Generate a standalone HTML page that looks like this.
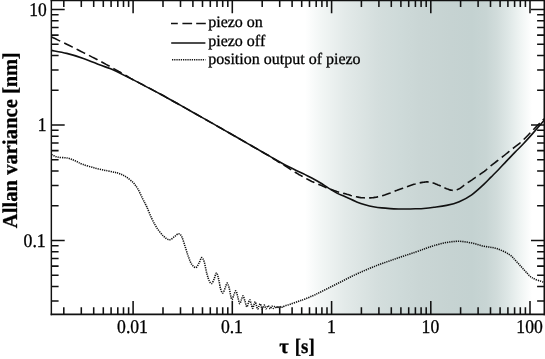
<!DOCTYPE html>
<html><head><meta charset="utf-8"><title>Allan variance</title>
<style>
html,body{margin:0;padding:0;background:#fff}
svg{display:block}
text{font-family:"Liberation Serif","Times New Roman",serif;text-rendering:geometricPrecision;fill:#000;stroke:#000;stroke-width:0.3px}
</style></head><body>
<svg width="545" height="359" viewBox="0 0 545 359">
<defs>
<linearGradient id="g" gradientUnits="userSpaceOnUse" x1="300" x2="545" y1="0" y2="0">
<stop offset="0.0204" stop-color="#ffffff"/>
<stop offset="0.0857" stop-color="#f2f6f5"/>
<stop offset="0.1837" stop-color="#e3eae9"/>
<stop offset="0.3184" stop-color="#d4dedd"/>
<stop offset="0.4082" stop-color="#cedad9"/>
<stop offset="0.4898" stop-color="#cad6d5"/>
<stop offset="0.6122" stop-color="#c6d3d2"/>
<stop offset="0.7020" stop-color="#c4d2d1"/>
<stop offset="0.7592" stop-color="#c8d5d4"/>
<stop offset="0.8041" stop-color="#d1dcdb"/>
<stop offset="0.8490" stop-color="#dee7e6"/>
<stop offset="0.8980" stop-color="#eff4f3"/>
<stop offset="0.9469" stop-color="#ffffff"/>
</linearGradient>
</defs>
<rect x="0" y="0" width="545" height="359" fill="#fff"/>
<rect x="300" y="0" width="245" height="314.4" fill="url(#g)"/>
<path d="M51.6 154.5C52.6 154.9 54.8 156.5 57.5 157.1C60.2 157.7 64.7 157.5 67.6 158.1C70.5 158.7 72.6 159.8 75.1 160.8C77.6 161.8 79.2 163.1 82.6 164.3C85.9 165.5 91.0 167.0 95.2 168.1C99.4 169.2 103.9 170.1 107.7 170.9C111.5 171.7 114.9 172.2 117.8 173.1C120.7 174.0 122.8 174.9 125.3 176.4C127.8 177.9 130.7 180.1 132.8 182.2C134.9 184.3 136.1 186.1 137.8 188.9C139.5 191.7 141.3 196.0 142.8 199.0C144.3 202.0 145.2 203.5 146.7 206.7C148.2 209.9 150.0 214.9 151.7 218.4C153.4 221.9 154.8 224.7 156.7 227.6C158.6 230.5 161.3 234.0 163.4 236.0C165.5 238.0 167.5 239.7 169.3 239.8C171.1 239.9 172.8 237.8 174.3 236.8C175.8 235.8 177.2 233.8 178.5 233.8C179.8 233.8 180.7 234.6 181.8 236.8C182.9 239.0 184.1 243.5 185.2 246.8C186.3 250.1 187.3 253.8 188.4 256.7C189.5 259.6 190.4 262.5 191.7 264.3C192.9 266.1 194.7 267.9 195.9 267.6C197.2 267.3 198.2 264.3 199.2 262.6C200.2 260.9 200.9 257.7 201.7 257.6C202.5 257.5 203.3 259.2 204.2 261.8C205.0 264.4 206.0 270.3 206.8 273.5C207.7 276.7 208.5 279.3 209.3 281.0C210.1 282.7 211.0 283.9 211.8 283.5C212.6 283.1 213.5 280.2 214.3 278.5C215.1 276.8 215.8 272.8 216.6 273.0C217.3 273.2 218.2 277.4 218.8 280.0C219.5 282.6 219.8 286.3 220.5 288.5C221.2 290.7 222.0 293.2 222.8 293.0C223.6 292.8 224.8 288.6 225.5 287.0C226.2 285.4 226.6 282.9 227.2 283.1C227.8 283.3 228.4 285.3 229.2 288.0C229.9 290.7 230.9 298.1 231.7 299.3C232.5 300.5 233.1 296.4 233.8 295.0C234.5 293.6 235.2 290.6 235.9 290.9C236.6 291.2 237.2 294.9 237.8 297.0C238.4 299.1 239.1 303.2 239.7 303.6C240.3 304.1 240.8 301.0 241.4 299.7C242.0 298.4 242.5 295.6 243.1 295.9C243.7 296.2 244.4 299.5 245.0 301.3C245.6 303.1 246.2 306.5 246.8 306.8C247.4 307.1 247.8 304.5 248.3 303.3C248.8 302.1 249.3 299.7 249.8 299.8C250.3 299.9 250.7 302.6 251.2 304.0C251.7 305.4 252.1 308.2 252.6 308.4C253.1 308.6 253.5 306.1 253.9 305.0C254.3 303.9 254.7 301.8 255.1 301.8C255.5 301.9 256.0 304.1 256.4 305.3C256.8 306.5 257.2 308.8 257.6 309.0C258.0 309.2 258.5 307.2 258.9 306.3C259.3 305.4 259.8 303.8 260.2 303.8C260.6 303.8 260.9 305.4 261.2 306.3C261.5 307.2 261.7 309.2 262.2 309.0C262.7 308.8 263.7 305.1 264.3 305.1C264.9 305.1 265.4 308.7 266.0 308.8C266.6 308.9 267.5 305.6 268.2 305.6C268.9 305.6 269.6 308.6 270.2 308.7C270.8 308.8 271.3 306.1 271.9 306.0C272.4 305.9 273.0 308.4 273.5 308.4C274.0 308.4 274.5 306.2 275.0 306.2C275.5 306.1 276.1 308.1 276.6 308.1C277.1 308.1 277.5 306.4 278.0 306.3C278.5 306.2 279.0 307.8 279.5 307.8C280.0 307.8 280.5 306.4 281.0 306.3C281.5 306.2 281.8 307.3 282.5 307.2C283.2 307.1 283.7 306.3 285.0 305.8C286.3 305.3 288.0 305.0 290.3 304.2C292.6 303.4 296.2 302.1 298.6 301.2C301.1 300.3 302.2 300.1 305.0 299.0C307.8 297.9 311.3 296.4 315.1 294.7C318.9 292.9 323.4 290.6 327.6 288.5C331.8 286.4 336.0 284.3 340.2 282.2C344.4 280.1 348.5 277.9 352.7 275.9C356.9 273.9 361.1 272.0 365.3 270.2C369.5 268.4 373.6 266.7 377.8 265.1C382.0 263.5 386.2 262.1 390.4 260.6C394.6 259.1 398.7 257.7 402.9 256.3C407.1 254.9 411.6 253.4 415.5 252.1C419.4 250.8 422.9 249.4 426.0 248.3C429.1 247.2 430.7 246.6 434.1 245.6C437.5 244.6 442.4 243.2 446.6 242.5C450.8 241.8 455.0 241.2 459.2 241.3C463.4 241.4 467.5 242.2 471.7 243.0C475.9 243.8 480.1 245.4 484.3 246.3C488.5 247.2 492.6 247.2 496.8 248.6C501.0 250.0 506.0 252.4 509.4 254.6C512.8 256.8 514.4 259.4 516.9 262.0C519.4 264.6 521.9 267.6 524.4 270.2C526.9 272.8 528.9 275.7 532.0 277.7C535.1 279.7 541.4 281.3 543.3 282.0" fill="none" stroke="#111" stroke-width="1.55" stroke-dasharray="1.25 0.95"/>
<path d="M51.6 37.0L53.2 37.8L55.5 38.8L58.1 40.1L60.2 41.1M64.2 43.0L66.7 44.2L69.4 45.5L72.1 46.9L72.7 47.2M76.6 49.1L77.8 49.7L80.6 51.2L83.4 52.6L85.1 53.5M89.0 55.4L89.0 55.4L91.8 56.9L94.6 58.3L97.4 59.7L97.5 59.8M101.3 61.8L103.1 62.7L106.1 64.4L109.1 66.0L109.6 66.3M113.4 68.4L114.6 69.1L116.9 70.4L118.8 71.5L120.3 72.3L121.6 73.1M125.3 75.2L126.7 76.0L128.0 76.8L129.4 77.6L130.7 78.4L132.1 79.2L133.5 80.0M137.2 81.9L138.0 82.3L139.6 83.1L141.3 84.0L143.4 85.1L145.1 86.0M148.7 87.9L151.4 89.3L154.3 90.9L156.5 92.0M160.1 93.9L160.2 94.0L163.0 95.5L165.8 97.1L167.9 98.2M171.4 100.2L174.1 101.7L176.9 103.3L179.2 104.6M182.7 106.5L185.1 107.9L187.8 109.4L190.4 110.9M194.0 112.9L196.8 114.5L200.1 116.4L201.7 117.3M205.2 119.3L206.9 120.2L210.2 122.1L213.0 123.6M216.5 125.7L219.2 127.2L222.0 128.8L224.2 130.1M227.7 132.1L230.2 133.5L233.0 135.1L235.4 136.5M238.9 138.5L241.3 139.9L244.1 141.5L246.6 142.9M250.2 145.0L252.8 146.5L255.9 148.3L257.9 149.4M261.4 151.4L261.4 151.4L263.6 152.7L265.1 153.6L266.1 154.2L266.8 154.6L267.5 155.0L268.5 155.6L269.0 156.0M272.4 158.1L275.1 159.7L278.2 161.7L280.0 162.8M283.6 164.9L284.3 165.4L286.7 166.9L288.6 168.1L290.1 169.1L291.3 169.8M294.8 172.0L295.1 172.2L296.5 173.0L297.9 173.9L299.2 174.7L300.6 175.4L302.0 176.2L302.6 176.6M306.3 178.6L307.6 179.3L309.0 180.0L310.4 180.7L311.8 181.4L313.2 182.0L314.4 182.6M318.3 184.2L318.8 184.4L320.2 185.0L321.6 185.6L323.0 186.2L324.4 186.8L325.7 187.4L326.6 187.8M330.5 189.3L331.3 189.6L332.7 190.1L334.1 190.6L335.5 191.0L336.9 191.5L338.3 191.9L339.1 192.2M343.1 193.2L343.7 193.4L345.3 193.8L347.0 194.3L348.9 194.8L350.8 195.4L351.9 195.7M355.9 196.7L356.4 196.8L358.0 197.1L359.5 197.4L360.9 197.6L362.2 197.7L363.6 197.8L364.9 197.9M369.1 197.9L369.2 197.9L370.6 197.9L372.0 197.7L373.4 197.6L374.8 197.4L376.2 197.2L377.6 196.9L378.1 196.8M382.1 195.8L383.2 195.5L384.6 195.1L386.0 194.6L387.4 194.1L388.8 193.6L390.2 193.1L390.7 192.9M394.6 191.3L395.7 190.8L397.1 190.3L398.5 189.7L399.9 189.2L401.3 188.7L402.7 188.2L403.1 188.0M407.0 186.7L408.3 186.2L409.7 185.7L411.1 185.2L412.5 184.7L413.9 184.3L415.3 183.9L415.6 183.8M419.7 182.9L421.1 182.6L422.4 182.4L423.6 182.2L424.6 182.1L425.5 182.0L426.3 181.9L427.0 181.9L427.8 181.9L428.6 182.0L428.7 182.0M432.6 182.9L433.1 183.0L434.0 183.3L434.8 183.6L435.6 183.9L436.4 184.2L437.2 184.5L438.0 184.9L439.0 185.3L440.1 185.8L440.8 186.1M444.4 187.8L445.4 188.2L446.6 188.7L447.7 189.1L448.8 189.5L449.8 189.9L450.8 190.1L451.9 190.3L452.8 190.4M456.7 189.8L457.0 189.7L458.1 189.3L459.2 188.8L460.4 188.1L461.7 187.2L463.0 186.2L464.2 185.2M467.7 182.6L468.3 182.3L468.9 181.9L469.6 181.5L470.5 180.9L471.7 180.1L473.4 178.9L475.6 177.4L475.8 177.3M479.5 174.7L480.3 174.2L482.5 172.6L484.3 171.3L485.6 170.3L486.6 169.5L487.2 168.9M490.6 166.0L491.4 165.3L493.0 164.1L494.7 162.8L496.4 161.5L498.2 160.2L498.3 160.1M501.8 157.4L503.6 156.0L505.4 154.5L507.2 153.0L509.1 151.5L509.4 151.2M512.9 148.5L514.3 147.4L515.9 146.2L517.6 144.9L519.6 143.3L520.5 142.5M523.7 139.5L524.5 138.7L527.7 135.5L530.3 132.8M533.3 129.8L534.3 128.7L537.3 125.6L539.7 123.2L539.8 123.1M542.8 120.2L542.9 120.0L544.0 119.0L544.8 118.2L545.4 117.5L546.0 117.0" fill="none" stroke="#111" stroke-width="1.6"/>
<path d="M51.6 50.4C54.1 50.9 61.4 52.1 66.7 53.4C72.0 54.7 77.8 56.5 83.4 58.4C89.0 60.3 95.8 63.4 100.2 65.1C104.6 66.8 105.6 66.7 110.0 68.6C114.4 70.5 121.1 73.8 126.7 76.6C132.3 79.3 137.8 82.2 143.4 85.1C149.0 88.0 154.6 91.0 160.2 94.0C165.8 97.0 171.3 100.2 176.9 103.3C182.5 106.4 187.5 109.3 193.6 112.7C199.7 116.1 207.3 120.4 213.4 123.9C219.5 127.4 224.6 130.3 230.2 133.5C235.8 136.7 241.3 139.9 246.9 143.1C252.5 146.3 259.8 150.5 263.6 152.7C267.5 154.9 266.1 154.2 270.0 156.4C273.9 158.6 281.1 162.8 286.7 165.7C292.3 168.6 299.2 171.8 303.4 173.8C307.6 175.9 309.0 176.5 311.8 178.0C314.6 179.5 317.4 181.1 320.2 182.8C323.0 184.5 325.7 186.4 328.5 188.1C331.3 189.8 334.1 191.6 336.9 193.1C339.7 194.6 342.0 195.3 345.3 196.8C348.6 198.3 353.4 200.6 356.7 201.9C360.0 203.2 362.2 203.9 365.0 204.7C367.8 205.5 370.6 206.2 373.4 206.7C376.2 207.2 379.0 207.6 381.8 207.9C384.6 208.2 387.4 208.4 390.2 208.6C393.0 208.8 395.7 208.9 398.5 209.0C401.3 209.1 404.1 209.0 406.9 209.0C409.7 209.0 412.5 208.9 415.3 208.8C418.1 208.7 420.5 208.8 423.6 208.5C426.7 208.2 430.2 207.8 434.0 207.3C437.8 206.8 442.4 206.3 446.6 205.4C450.8 204.5 455.0 203.5 459.2 201.7C463.4 199.9 467.5 197.8 471.7 194.8C475.9 191.8 481.1 186.9 484.3 183.9C487.5 180.9 488.6 179.5 491.0 177.1C493.4 174.7 495.8 172.4 498.4 169.7C501.0 167.0 503.9 163.8 506.7 160.9C509.5 158.0 512.3 154.9 515.1 152.1C517.9 149.2 520.5 146.9 523.4 143.8C526.3 140.7 529.4 137.3 532.8 133.4C536.2 129.5 541.8 123.0 544.0 120.5C546.2 118.0 545.7 118.6 546.0 118.2" fill="none" stroke="#111" stroke-width="1.6"/>
<path d="M63.8 314.4 L63.8 307.2M63.8 0.0 L63.8 7.1M81.3 314.4 L81.3 307.2M81.3 0.0 L81.3 7.1M93.7 314.4 L93.7 307.2M93.7 0.0 L93.7 7.1M103.3 314.4 L103.3 307.2M103.3 0.0 L103.3 7.1M111.1 314.4 L111.1 307.2M111.1 0.0 L111.1 7.1M117.8 314.4 L117.8 307.2M117.8 0.0 L117.8 7.1M123.5 314.4 L123.5 307.2M123.5 0.0 L123.5 7.1M128.6 314.4 L128.6 307.2M128.6 0.0 L128.6 7.1M133.1 314.4 L133.1 301.1M133.1 0.0 L133.1 13.2M163.0 314.4 L163.0 307.2M163.0 0.0 L163.0 7.1M180.5 314.4 L180.5 307.2M180.5 0.0 L180.5 7.1M192.9 314.4 L192.9 307.2M192.9 0.0 L192.9 7.1M202.5 314.4 L202.5 307.2M202.5 0.0 L202.5 7.1M210.3 314.4 L210.3 307.2M210.3 0.0 L210.3 7.1M217.0 314.4 L217.0 307.2M217.0 0.0 L217.0 7.1M222.7 314.4 L222.7 307.2M222.7 0.0 L222.7 7.1M227.8 314.4 L227.8 307.2M227.8 0.0 L227.8 7.1M232.3 314.4 L232.3 301.1M232.3 0.0 L232.3 13.2M262.2 314.4 L262.2 307.2M262.2 0.0 L262.2 7.1M279.7 314.4 L279.7 307.2M279.7 0.0 L279.7 7.1M292.1 314.4 L292.1 307.2M292.1 0.0 L292.1 7.1M301.7 314.4 L301.7 307.2M301.7 0.0 L301.7 7.1M309.5 314.4 L309.5 307.2M309.5 0.0 L309.5 7.1M316.2 314.4 L316.2 307.2M316.2 0.0 L316.2 7.1M321.9 314.4 L321.9 307.2M321.9 0.0 L321.9 7.1M327.0 314.4 L327.0 307.2M327.0 0.0 L327.0 7.1M331.6 314.4 L331.6 301.1M331.6 0.0 L331.6 13.2M361.4 314.4 L361.4 307.2M361.4 0.0 L361.4 7.1M378.9 314.4 L378.9 307.2M378.9 0.0 L378.9 7.1M391.3 314.4 L391.3 307.2M391.3 0.0 L391.3 7.1M400.9 314.4 L400.9 307.2M400.9 0.0 L400.9 7.1M408.7 314.4 L408.7 307.2M408.7 0.0 L408.7 7.1M415.4 314.4 L415.4 307.2M415.4 0.0 L415.4 7.1M421.1 314.4 L421.1 307.2M421.1 0.0 L421.1 7.1M426.2 314.4 L426.2 307.2M426.2 0.0 L426.2 7.1M430.8 314.4 L430.8 301.1M430.8 0.0 L430.8 13.2M460.6 314.4 L460.6 307.2M460.6 0.0 L460.6 7.1M478.1 314.4 L478.1 307.2M478.1 0.0 L478.1 7.1M490.5 314.4 L490.5 307.2M490.5 0.0 L490.5 7.1M500.1 314.4 L500.1 307.2M500.1 0.0 L500.1 7.1M507.9 314.4 L507.9 307.2M507.9 0.0 L507.9 7.1M514.6 314.4 L514.6 307.2M514.6 0.0 L514.6 7.1M520.3 314.4 L520.3 307.2M520.3 0.0 L520.3 7.1M525.4 314.4 L525.4 307.2M525.4 0.0 L525.4 7.1M530.0 314.4 L530.0 301.1M530.0 0.0 L530.0 13.2M51.4 300.9 L58.6 300.9M544.3 300.9 L537.1 300.9M51.4 286.5 L58.6 286.5M544.3 286.5 L537.1 286.5M51.4 275.3 L58.6 275.3M544.3 275.3 L537.1 275.3M51.4 266.1 L58.6 266.1M544.3 266.1 L537.1 266.1M51.4 258.4 L58.6 258.4M544.3 258.4 L537.1 258.4M51.4 251.7 L58.6 251.7M544.3 251.7 L537.1 251.7M51.4 245.8 L58.6 245.8M544.3 245.8 L537.1 245.8M51.4 240.5 L64.7 240.5M544.3 240.5 L531.0 240.5M51.4 205.7 L58.6 205.7M544.3 205.7 L537.1 205.7M51.4 185.4 L58.6 185.4M544.3 185.4 L537.1 185.4M51.4 171.0 L58.6 171.0M544.3 171.0 L537.1 171.0M51.4 159.8 L58.6 159.8M544.3 159.8 L537.1 159.8M51.4 150.6 L58.6 150.6M544.3 150.6 L537.1 150.6M51.4 142.9 L58.6 142.9M544.3 142.9 L537.1 142.9M51.4 136.2 L58.6 136.2M544.3 136.2 L537.1 136.2M51.4 130.3 L58.6 130.3M544.3 130.3 L537.1 130.3M51.4 125.0 L64.7 125.0M544.3 125.0 L531.0 125.0M51.4 90.2 L58.6 90.2M544.3 90.2 L537.1 90.2M51.4 69.9 L58.6 69.9M544.3 69.9 L537.1 69.9M51.4 55.5 L58.6 55.5M544.3 55.5 L537.1 55.5M51.4 44.3 L58.6 44.3M544.3 44.3 L537.1 44.3M51.4 35.1 L58.6 35.1M544.3 35.1 L537.1 35.1M51.4 27.4 L58.6 27.4M544.3 27.4 L537.1 27.4M51.4 20.7 L58.6 20.7M544.3 20.7 L537.1 20.7M51.4 14.8 L58.6 14.8M544.3 14.8 L537.1 14.8M51.4 9.5 L64.7 9.5M544.3 9.5 L531.0 9.5M51.4 9.5 L64.7 9.5M544.3 9.5 L531.0 9.5" fill="none" stroke="#111" stroke-width="1.55"/>
<path d="M51.35 0 V315.25" fill="none" stroke="#111" stroke-width="1.45"/>
<path d="M50.65 314.4 H545" fill="none" stroke="#111" stroke-width="1.7"/>
<path d="M544.3 0 V315.25" fill="none" stroke="#111" stroke-width="1.6"/>
<path d="M50.65 0.45 H545" fill="none" stroke="#111" stroke-width="1.6"/>
<g font-size="18" text-anchor="end">
<text transform="translate(46.8 15.6) scale(0.97 1.075)">10</text>
<text transform="translate(46.4 130.6) scale(0.97 1.075)">1</text>
<text transform="translate(45.7 247.0) scale(0.985 1.075)">0.1</text>
</g>
<g font-size="18" text-anchor="middle">
<text transform="translate(132.5 333) scale(0.98 1.08)">0.01</text>
<text transform="translate(231.9 333) scale(0.98 1.08)">0.1</text>
<text transform="translate(331.3 333) scale(0.98 1.08)">1</text>
<text transform="translate(430.4 333) scale(0.98 1.08)">10</text>
<text transform="translate(529.6 333) scale(0.98 1.08)">100</text>
</g>
<text x="279.2" y="353.2" font-size="20.5" font-weight="bold">τ</text>
<text transform="translate(294.8 353.2) scale(0.92 1)" font-size="20.5" font-weight="bold">[s]</text>
<text transform="translate(17.1 228.2) rotate(-90) scale(1 1.03)" font-size="20.5" font-weight="bold"><tspan letter-spacing="0.075">Allan variance </tspan><tspan letter-spacing="-0.25">[nm]</tspan></text>
<path d="M171 23.6H177.8M182.4 23.6H192.1M196.2 23.6H205.8" stroke="#111" stroke-width="1.5" fill="none"/>
<path d="M171.2 42.9H205.4" stroke="#111" stroke-width="1.5" fill="none"/>
<path d="M172 59.7H205.4" stroke="#111" stroke-width="1.6" stroke-dasharray="1.25 0.95" fill="none"/>
<g font-size="16">
<text x="208.2" y="26.9">piezo on</text>
<text x="208.2" y="45.8">piezo off</text>
<text x="208.2" y="63.8">position output of piezo</text>
</g>
</svg>
</body></html>
